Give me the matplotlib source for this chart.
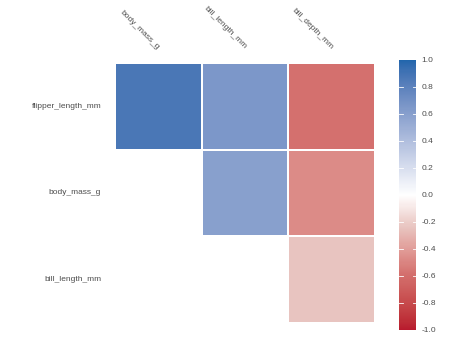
import numpy as np
import matplotlib
matplotlib.use("Agg")
import matplotlib.pyplot as plt
from matplotlib.colors import ListedColormap, Normalize, to_rgb
import matplotlib.cm as cm

rows = ["flipper_length_mm", "body_mass_g", "bill_length_mm"]
cols = ["body_mass_g", "bill_length_mm", "bill_depth_mm"]
row0 = [0.871, 0.656, -0.584]
row1 = [np.nan, 0.595, -0.472]
row2 = [np.nan, np.nan, -0.235]
cbar_ticks = [1.0, 0.8, 0.6, 0.4, 0.2, 0.0, -0.2, -0.4, -0.6, -0.8, -1.0]


def srgb_to_lab(c):
    c = np.asarray(c, float)
    lin = np.where(c <= 0.04045, c / 12.92, ((c + 0.055) / 1.055) ** 2.4)
    M = np.array([[0.4124, 0.3576, 0.1805], [0.2126, 0.7152, 0.0722], [0.0193, 0.1192, 0.9505]])
    xyz = M @ lin / np.array([0.95047, 1.0, 1.08883])
    f = np.where(xyz > 0.008856, np.cbrt(xyz), 7.787 * xyz + 16 / 116)
    return np.array([116 * f[1] - 16, 500 * (f[0] - f[1]), 200 * (f[1] - f[2])])


def lab_to_srgb(lab):
    L, a, b = lab
    fy = (L + 16) / 116
    fx = fy + a / 500
    fz = fy - b / 200
    f = np.array([fx, fy, fz])
    xyz = np.where(f ** 3 > 0.008856, f ** 3, (f - 16 / 116) / 7.787) * np.array([0.95047, 1.0, 1.08883])
    Minv = np.array([[3.2406, -1.5372, -0.4986], [-0.9689, 1.8758, 0.0415], [0.0557, -0.2040, 1.0570]])
    lin = np.clip(Minv @ xyz, 0, 1)
    c = np.where(lin <= 0.0031308, 12.92 * lin, 1.055 * lin ** (1 / 2.4) - 0.055)
    return np.clip(c, 0, 1)


# colour stops of the diverging scale (position, colour)
stops = [(-1.0, "#B81A2E"), (-0.58, "#D4716F"), (-0.24, "#E8C4C0"),
         (0.0, "#FFFFFF"), (1.0, "#2166AC")]
pos = np.array([p for p, _ in stops])
labs = np.array([srgb_to_lab(to_rgb(c)) for _, c in stops])
cols_list = []
for t in np.linspace(-1, 1, 256):
    lab = np.array([np.interp(t, pos, labs[:, k]) for k in range(3)])
    cols_list.append(lab_to_srgb(lab))
cmap = ListedColormap(cols_list)
norm = Normalize(-1, 1)

plt.rcParams["font.family"] = ["Liberation Sans", "DejaVu Sans"]
M = np.ma.masked_invalid(np.array([row0, row1, row2]))

fig = plt.figure(figsize=(4.74, 3.38), dpi=100)
ax = fig.add_axes([0.2426, 0.0444, 0.5485, 0.7692])
ax.pcolormesh(np.arange(4), np.arange(4), M, cmap=cmap, norm=norm,
              edgecolors="white", linewidth=1.2)
ax.set_xlim(0, 3)
ax.set_ylim(3, 0)
for s in ax.spines.values():
    s.set_visible(False)
ax.set_xticks([])
ax.set_yticks([])
tc = "#4d4d4d"
fs = 6.0
for i, r in enumerate(rows):
    ax.text(-0.16, i + 0.5, r, ha="right", va="center", fontsize=fs, color=tc)
for j, c in enumerate(cols):
    ax.text(j + 0.5, -0.17, c, ha="right", va="center", rotation=-45,
            rotation_mode="anchor", fontsize=fs, color=tc)

cax = fig.add_axes([0.842, 0.0237, 0.036, 0.799])
cb = fig.colorbar(cm.ScalarMappable(norm=norm, cmap=cmap), cax=cax, ticks=cbar_ticks)
cb.outline.set_visible(False)
cb.ax.tick_params(length=0, labelsize=fs, labelcolor=tc, pad=4)
cb.ax.set_yticklabels([f"{t:.1f}" for t in cbar_ticks])
for t in cbar_ticks[1:-1]:
    cax.plot([0, 0.2], [t, t], color="white", lw=0.6)
    cax.plot([0.8, 1], [t, t], color="white", lw=0.6)

fig.savefig("out.png", dpi=100)
